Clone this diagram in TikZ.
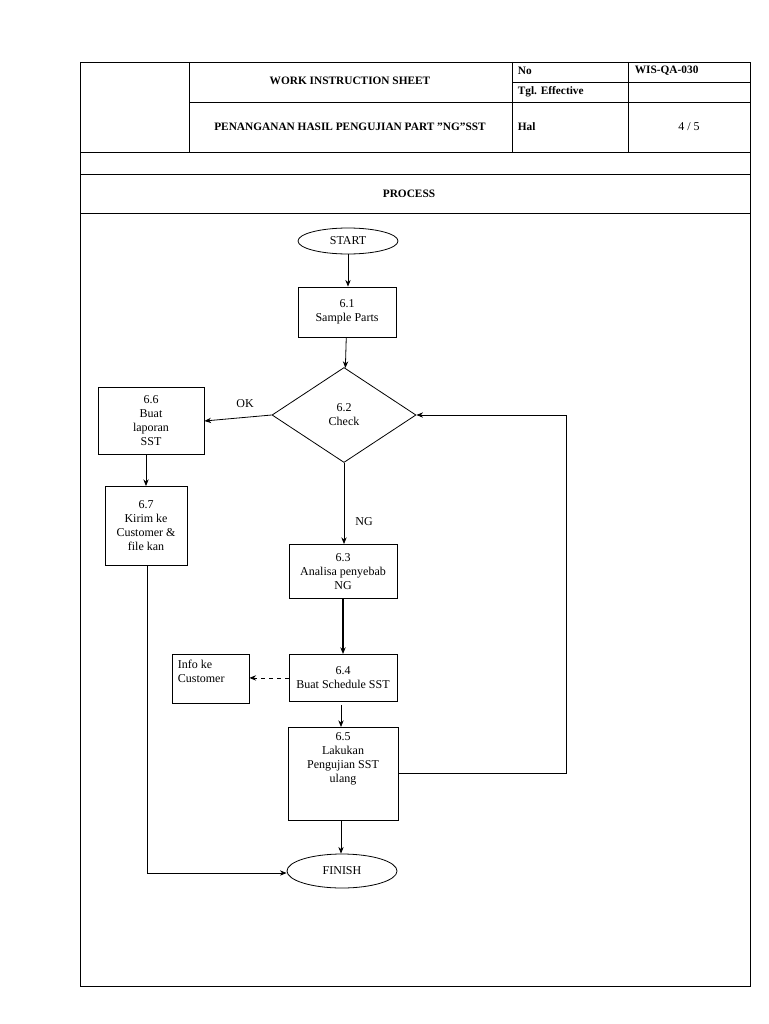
\documentclass[tikz,border=0pt]{standalone}
\usepackage{fontspec}
\setmainfont{Liberation Serif}
\usetikzlibrary{shapes.geometric,arrows.meta}
\begin{document}
\begin{tikzpicture}[x=0.75pt,y=-0.75pt,line width=0.6pt,
  every node/.style={font=\fontsize{9}{10.5}\selectfont,align=center},
  box/.style={draw,inner sep=0pt},
  arr/.style={-{Stealth[length=5pt,width=4pt]}},
  hd/.style={font=\fontsize{8.5}{10}\selectfont\bfseries}]
\useasboundingbox (0,0) rectangle (768,1024);
% frame
\draw (80,62) rectangle (750,986);
\draw (189,62) -- (189,152);
\draw (512,62) -- (512,152);
\draw (628,62) -- (628,152);
\draw (512,82) -- (750,82);
\draw (189,102) -- (750,102);
\draw (80,152) -- (750,152);
\draw (80,174) -- (750,174);
\draw (80,213) -- (750,213);
\node[hd] (t1) at (350,81) {WORK INSTRUCTION SHEET};
\node[hd] (t2) at (350,127) {PENANGANAN HASIL PENGUJIAN PART "NG"SST};
\node[hd,anchor=west] (t3) at (513,71) {No};
\node[hd,anchor=west] (t4) at (513,92) {Tgl. Effective};
\node[hd,anchor=west] (t5) at (513,127) {Hal};
\node[hd,anchor=west] (t6) at (630,71) {WIS-QA-030};
\node (t7) at (689,127) {4 / 5};
\node[hd] (t8) at (409,194) {PROCESS};
% flow
\node[draw,ellipse,minimum width=100*0.75pt,minimum height=26*0.75pt,inner sep=0pt] (start) at (348,241) {START};
\node[box,minimum width=98*0.75pt,minimum height=50*0.75pt] (n1) at (347,312) {6.1\\Sample Parts};
\node[draw,diamond,aspect=1.52,minimum width=144*0.75pt,minimum height=95*0.75pt,inner sep=0pt] (n2) at (344,415) {6.2\\Check};
\node[box,minimum width=106*0.75pt,minimum height=67*0.75pt] (n6) at (151,421) {6.6\\Buat\\laporan\\SST};
\node[box,minimum width=82*0.75pt,minimum height=79*0.75pt,anchor=north] (n7) at (146,486) {6.7\\Kirim ke\\Customer \&\\file kan};
\node[box,minimum width=108*0.75pt,minimum height=54*0.75pt,anchor=north] (n3) at (343,544) {6.3\\Analisa penyebab\\NG};
\node[box,minimum width=108*0.75pt,minimum height=47*0.75pt,anchor=north] (n4) at (343,654) {6.4\\Buat Schedule SST};
\node[box,minimum width=77*0.75pt,minimum height=49*0.75pt] (info) at (210.5,678.5) {};
\node[anchor=north west,align=left] (infot) at (173,655) {Info ke\\Customer};
\node[box,minimum width=110*0.75pt,minimum height=93*0.75pt,anchor=north] (n5) at (343,727) {6.5\\Lakukan\\Pengujian SST\\ulang\\[14pt]};
\node[draw,ellipse,minimum width=110*0.75pt,minimum height=34*0.75pt,inner sep=0pt] (fin) at (342,871) {FINISH};
\node (ok) at (245,404) {OK};
\node (ng) at (364,522) {NG};
\coordinate (c1) at (566,773);
\coordinate (c2) at (566,415);
\coordinate (c3) at (147,873);
\draw[arr] (start) -- (start|-n1.north);
\draw[arr] (n1) -- (n2);
\draw[arr] (n2.west) -- (n6.east);
\draw[arr] (n6.south-|146,0) -- (n7.north);
\draw[arr] (n2.south) -- (n2.south|-n3.north);
\draw[arr,line width=1pt] (n3) -- (n4);
\draw[arr,dashed] (n4.west) -- (info.east|-n4.west);
\draw[arr] (341,705) -- (341,727);
\draw[arr] (n5.south-|341,0) -- (fin.north-|341,0);
\draw[arr] (n5.east|-c1) -- (c1) -- (c2) -- (n2.east);
\draw[arr] (n7.south-|c3) -- (c3) -- (fin.west|-c3);
\end{tikzpicture}
\end{document}
